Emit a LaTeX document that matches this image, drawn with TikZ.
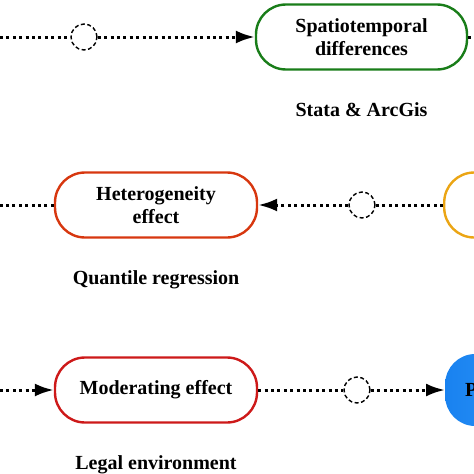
\documentclass[tikz,border=0pt]{standalone}
\usepackage{fontspec}
\setmainfont{Liberation Serif}
\usetikzlibrary{shapes,arrows.meta,positioning,calc}
\definecolor{boxgreen}{RGB}{25,125,25}
\definecolor{boxhet}{RGB}{215,55,15}
\definecolor{boxmod}{RGB}{205,25,25}
\definecolor{boxorange}{RGB}{235,165,20}
\definecolor{bluedark}{RGB}{25,130,240}
\definecolor{bluelight}{RGB}{70,170,255}

\begin{document}
\begin{tikzpicture}[x=1pt, y=-1pt, node distance=32pt,
    font=\fontsize{20}{23}\selectfont\bfseries,
    box/.style={draw, rectangle, rounded corners=30pt, line width=2.4pt, minimum width=202pt, minimum height=65pt, align=center, inner sep=0pt},
    hub/.style={draw, circle, line width=1.4pt, dash pattern=on 4pt off 2.5pt, minimum size=26pt, inner sep=0pt},
    flow/.style={line width=3pt, dash pattern=on 3pt off 3.4pt},
    tip/.style={-{Latex[length=19pt,width=13pt]}},
    lbl/.style={inner sep=0pt, text height=14pt, text depth=4pt}]
    \useasboundingbox (0,0) rectangle (474,474);
    \clip (0,0) rectangle (474,474);

    \node (spat) [box, draw=boxgreen, minimum width=211pt] at (361.5,37) {Spatiotemporal\\differences};
    \node (het) [box, draw=boxhet] at (156,205) {Heterogeneity\\effect};
    \node (mod) [box, draw=boxmod] at (156,390) {Moderating effect};
    \node (ori) [box, draw=boxorange, anchor=west] at (443,205) {};
    \node (pol) [rectangle, rounded corners=30pt, minimum height=72pt, left color=bluedark, right color=bluelight, anchor=west, text width=162pt, inner xsep=20pt, inner ysep=0pt, align=left] at (445,390) {P};

    \node (c1) [hub] at (84,37) {};
    \node (c2) [hub] at (362,205) {};
    \node (c3) [hub] at (357,390) {};

    \node (stata) [lbl, below=of spat] {Stata \& ArcGis};
    \node (quant) [lbl, below=of het] {Quantile regression};
    \node (legal) [lbl, below=of mod] {Legal environment};

    \coordinate (in1) at (0,37);
    \coordinate (out1) at (474,37);
    \coordinate (out2) at (0,205);
    \coordinate (in3) at (0,390);

    \draw [flow] (in1) -- (c1);
    \draw [flow, tip] (c1) -- (spat);
    \draw [flow] (spat) -- (out1);
    \draw [flow] (ori) -- (c2);
    \draw [flow, tip] (c2) -- (het);
    \draw [flow] (het) -- (out2);
    \draw [flow, tip] (in3) -- (mod);
    \draw [flow] (mod) -- (c3);
    \draw [flow, tip] (c3) -- (pol);
\end{tikzpicture}
\end{document}
